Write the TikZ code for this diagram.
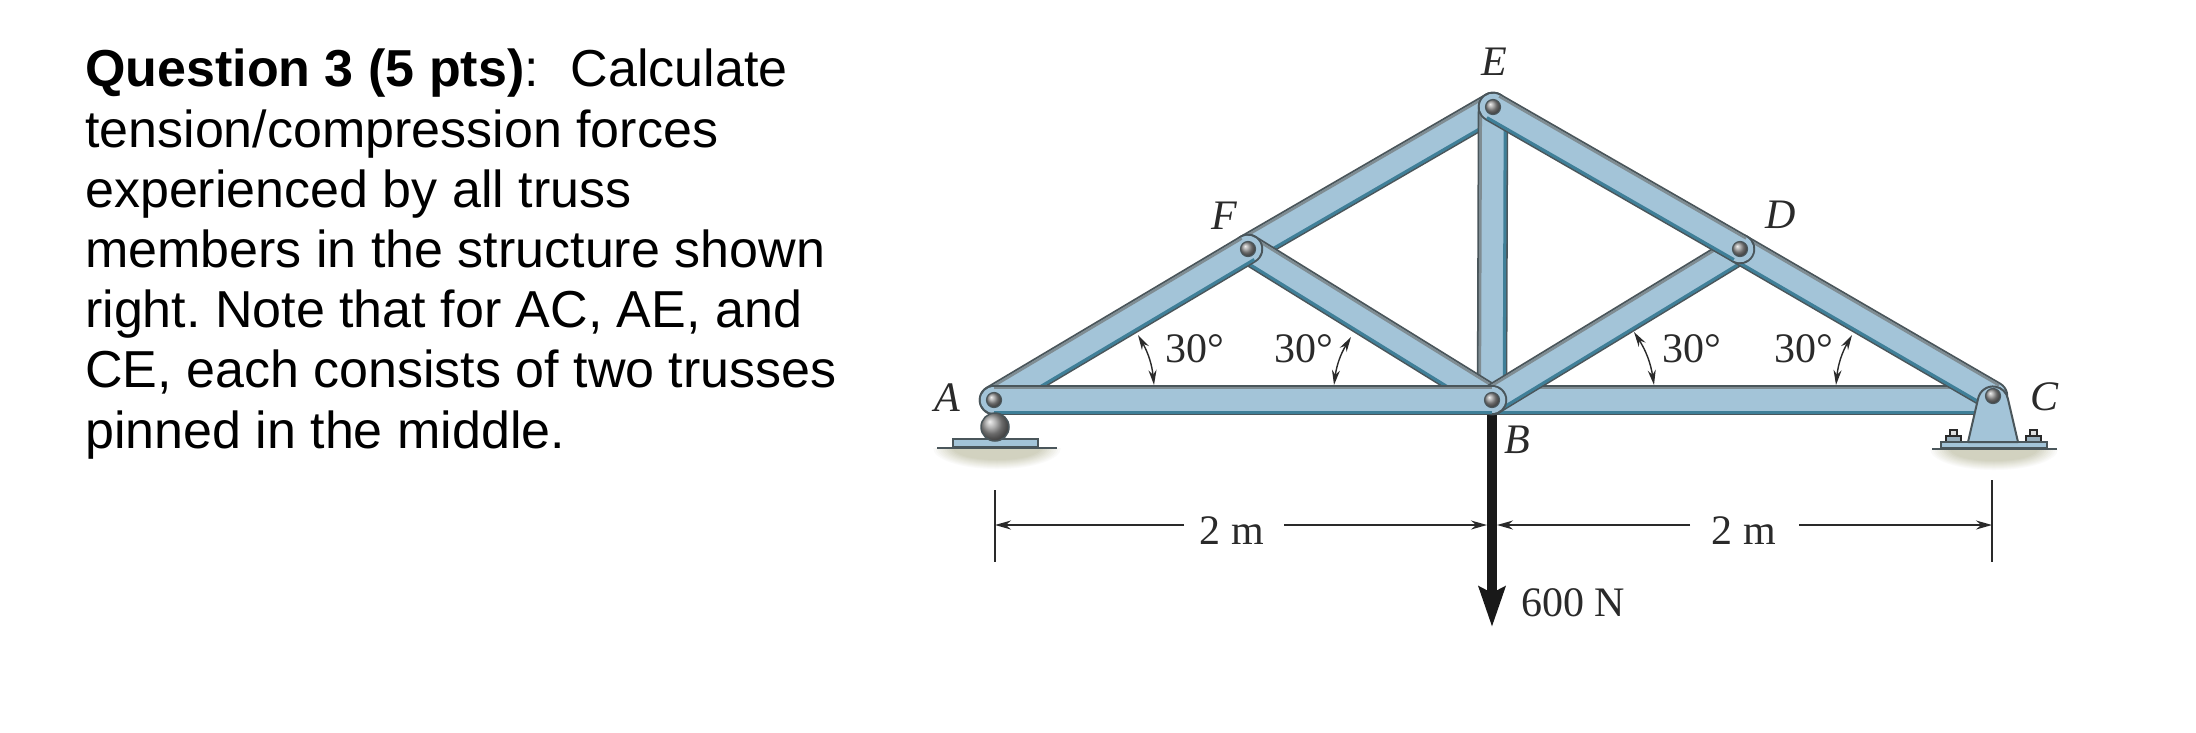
\documentclass[tikz,border=0pt]{standalone}
\usepackage{fontspec}
\setmainfont{Liberation Sans}
\newfontfamily\figfont{Liberation Serif}
\usetikzlibrary{calc,arrows.meta}
\definecolor{barblue}{HTML}{A3C4D8}
\definecolor{baredge}{HTML}{4A565B}
\definecolor{barlight}{HTML}{7F8C92}
\definecolor{barteal}{HTML}{3F7F98}
\definecolor{gnd}{HTML}{D2D2C0}
\definecolor{inkc}{HTML}{2A2A2A}
\tikzset{
  barout/.style={line width=30.5pt,line cap=round,color=baredge},
  barin/.style={line width=26.5pt,line cap=round,color=barblue},
  barhi/.style={line width=2.5pt,color=barlight},
  barlo/.style={line width=3pt,color=barteal},
  pinball/.style={circle,inner sep=0pt,minimum size=15pt,draw=baredge,line width=1.2pt,ball color=gray!85},
  label/.style={font=\figfont\itshape\fontsize{42}{42}\selectfont,text=inkc,inner sep=0pt},
  figtext/.style={font=\figfont\fontsize{42}{42}\selectfont,text=inkc,inner sep=0pt},
  dimline/.style={line width=1.6pt,color=inkc},
  dimarrow/.style={dimline,-{Stealth[length=16pt,width=9pt]}},
  anglearrow/.style={line width=1.4pt,color=inkc,{Stealth[length=15pt,width=8pt]}-{Stealth[length=15pt,width=8pt]}},
  load/.style={line width=10pt,color=black!90,-{Stealth[length=40pt,width=26pt,inset=6pt]}},
  plate/.style={draw=baredge,line width=2pt,fill=barblue},
  groundline/.style={line width=2pt,color=baredge},
  nut/.style={draw=inkc,line width=1.6pt,fill=barblue!70!gray},
  stud/.style={draw=inkc,line width=1.4pt,fill=gray!25},
  para/.style={font=\fontsize{52}{60.2}\selectfont\frenchspacing,align=left,inner sep=0pt,text=black}
}
\newcommand{\member}[2]{%
  \draw[barout] (#1) -- (#2);
  \draw[barin] (#1) -- (#2);
  \draw[barhi] ($(#1)!12.2pt!90:(#2)$) -- ($(#2)!12.2pt!-90:(#1)$);
  \draw[barlo] ($(#1)!12.2pt!-90:(#2)$) -- ($(#2)!12.2pt!90:(#1)$);
}
\newcommand{\groundpatch}[2]{%
  \begin{scope}
    \clip (#1-80,#2) rectangle (#1+80,#2-30);
    \foreach \k in {1,...,10}{
      \fill[gnd!\the\numexpr\k*10\relax!white] (#1,#2) ellipse ({66-2.2*\k} and {22-1*\k});
    }
  \end{scope}
}
\begin{document}
\begin{tikzpicture}[x=1pt,y=1pt]
\useasboundingbox (0,0) rectangle (2196,-732);
\fill[white] (0,0) rectangle (2196,-732);
% joints
\coordinate (A) at (994,-400);
\coordinate (F) at (1248,-249);
\coordinate (E) at (1493,-107);
\coordinate (B) at (1492,-400);
\coordinate (D) at (1740,-249);
\coordinate (C) at (1993,-396);
\coordinate (CH) at (1993,-400);
% text
\node[para,anchor=north west] (q) at (85,-49) {\textbf{Question 3 (5 pts)}:\ \ \hspace{3pt}Calculate\\
tension/compression forces\\
experienced by all truss\\
members in the structure shown\\
right. Note that for AC, AE, and\\
CE, each consists of two trusses\\
pinned in the middle.};
% ground shadows
\groundpatch{997}{-448}
\groundpatch{1994}{-449}
% load
\coordinate (tip) at (1492,-627);
\draw[load] (B) -- (tip);
% members
\member{B}{CH}
\member{F}{E}
\member{B}{E}
\member{F}{B}
\member{B}{D}
\member{D}{C}
\member{E}{D}
\member{A}{F}
\member{A}{B}
% pins
\node[pinball] (pA) at (A) {};
\node[pinball] (pF) at (F) {};
\node[pinball] (pE) at (E) {};
\node[pinball] (pB) at (B) {};
\node[pinball] (pD) at (D) {};
% roller support A
\draw[groundline] (937,-448) -- (1057,-448);
\draw[plate] (953,-439) rectangle (1038,-447);
\node[circle,inner sep=0pt,minimum size=28pt,draw=baredge,line width=1.5pt,ball color=gray!80] (roller) at (995,-427) {};
% pinned support C
\draw[groundline] (1932,-449) -- (2057,-449);
\draw[stud] (1950,-430) rectangle (1957,-437);
\draw[stud] (2030,-430) rectangle (2037,-437);
\draw[nut] (1946,-436) rectangle (1961,-442);
\draw[nut] (2026,-436) rectangle (2041,-442);
\draw[plate] (1941,-442) rectangle (2047,-448);
\draw[plate,line join=round] (1968,-442) -- (1978,-399) arc[start angle=170,end angle=10,radius=15.2pt] -- (2018,-442) -- cycle;
\node[pinball] (pC) at (C) {};
% labels
\node[label] (lE) at (1494,-62) {E};
\node[label] (lF) at (1224,-216) {F};
\node[label] (lA) at (947,-398) {A};
\node[label] (lB) at (1517,-440) {B};
\node[label] (lD) at (1781,-215) {D};
\node[label] (lC) at (2044,-397) {C};
% angles
\coordinate (a1a) at (1154,-385); \coordinate (a1b) at (1138,-335);
\coordinate (a2a) at (1334,-385); \coordinate (a2b) at (1351,-337);
\coordinate (a3a) at (1654,-385); \coordinate (a3b) at (1634,-332);
\coordinate (a4a) at (1836,-385); \coordinate (a4b) at (1852,-335);
\draw[anglearrow] (a1a) to[bend right=12] (a1b);
\draw[anglearrow] (a2a) to[bend left=12] (a2b);
\draw[anglearrow] (a3a) to[bend right=12] (a3b);
\draw[anglearrow] (a4a) to[bend left=12] (a4b);
\node[figtext] (t1) at (1195,-349) {30°};
\node[figtext] (t2) at (1304,-349) {30°};
\node[figtext] (t3) at (1692,-349) {30°};
\node[figtext] (t4) at (1804,-349) {30°};
% dimensions
\coordinate (tl1) at (995,-490); \coordinate (tl2) at (995,-562);
\coordinate (tr1) at (1992,-480); \coordinate (tr2) at (1992,-562);
\coordinate (dl) at (995,-525); \coordinate (dm1) at (1487,-525); \coordinate (dm2) at (1497,-525); \coordinate (dr) at (1992,-525);
\draw[dimline] (tl1) -- (tl2);
\draw[dimline] (tr1) -- (tr2);
\node[figtext] (d1) at (1232,-531) {2 m};
\node[figtext] (d2) at (1744,-531) {2 m};
\coordinate (g1) at (1184,-525); \coordinate (g2) at (1284,-525);
\coordinate (g3) at (1690,-525); \coordinate (g4) at (1799,-525);
\draw[dimarrow] (g1) -- (dl);
\draw[dimarrow] (g2) -- (dm1);
\draw[dimarrow] (g3) -- (dm2);
\draw[dimarrow] (g4) -- (dr);
\node[figtext] (f) at (1573,-603) {600 N};
\end{tikzpicture}
\end{document}
